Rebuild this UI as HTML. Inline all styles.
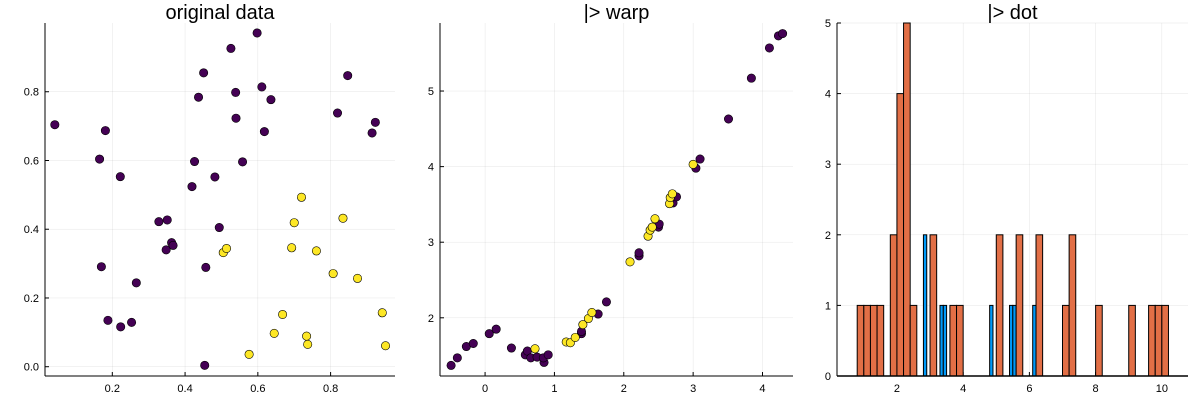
<!DOCTYPE html>
<html><head><meta charset="utf-8"><style>
body{margin:0;background:#fff;font-family:"Liberation Sans","DejaVu Sans",sans-serif}
svg text{font-family:"Liberation Sans","DejaVu Sans",sans-serif}
</style></head><body>
<svg id="c" width="1200" height="400" xmlns="http://www.w3.org/2000/svg"></svg>
<script>
const p1Purple=[[0.042,0.704],[0.181,0.687],[0.165,0.604],[0.222,0.553],[0.170,0.291],[0.188,0.135],[0.223,0.116],[0.253,0.129],[0.266,0.244],[0.328,0.422],[0.351,0.427],[0.348,0.340],[0.363,0.361],[0.367,0.353],[0.419,0.524],[0.426,0.597],[0.437,0.784],[0.451,0.855],[0.457,0.289],[0.454,0.004],[0.482,0.552],[0.494,0.405],[0.526,0.926],[0.539,0.798],[0.540,0.723],[0.558,0.596],[0.598,0.971],[0.611,0.814],[0.618,0.684],[0.636,0.777],[0.819,0.738],[0.847,0.847],[0.914,0.680],[0.923,0.711]];
const p1Yellow=[[0.576,0.036],[0.505,0.332],[0.514,0.344],[0.645,0.097],[0.668,0.152],[0.693,0.346],[0.700,0.419],[0.720,0.493],[0.734,0.089],[0.737,0.065],[0.761,0.337],[0.807,0.271],[0.834,0.432],[0.874,0.257],[0.942,0.157],[0.951,0.061]];
const p2Purple=[[-0.49,1.37],[-0.40,1.47],[-0.27,1.62],[-0.17,1.66],[0.06,1.79],[0.16,1.85],[0.38,1.60],[0.58,1.51],[0.61,1.56],[0.66,1.47],[0.75,1.48],[0.85,1.41],[0.84,1.47],[0.91,1.51],[1.39,1.79],[1.39,1.82],[1.63,2.05],[1.75,2.21],[2.22,2.82],[2.22,2.86],[2.50,3.20],[2.51,3.24],[2.71,3.52],[2.76,3.60],[3.04,3.98],[3.10,4.10],[3.51,4.63],[3.84,5.17],[4.10,5.57],[4.23,5.73],[4.29,5.76]];
const p2Yellow=[[0.72,1.59],[1.17,1.68],[1.23,1.67],[1.30,1.74],[1.41,1.91],[1.49,1.99],[1.54,2.07],[2.09,2.74],[2.35,3.08],[2.38,3.16],[2.41,3.20],[2.45,3.31],[2.66,3.51],[2.67,3.59],[2.70,3.64],[3.00,4.03]];
const orangeEdges=[0.8,1.0,1.2,1.4,1.8,2.0,2.2,2.4,3.0,3.6,3.8,5.0,5.6,6.2,7.0,7.2,8.0,9.0,9.6,9.8,10.0];
const orangeCounts=[1,1,1,1,2,4,5,1,2,1,1,2,2,2,1,2,1,1,1,1,1];
const blueEdges=[2.8,3.3,3.4,4.8,5.4,5.5,6.1];
const blueCounts=[2,1,1,1,1,1,1];
const ticks1x=[0.2,0.4,0.6,0.8],ticks1y=[0.0,0.2,0.4,0.6,0.8];
const ticks2x=[0,1,2,3,4],ticks2y=[2,3,4,5];
const ticks3x=[2,4,6,8,10],ticks3y=[0,1,2,3,4,5];

const svg=document.getElementById('c');const NS='http://www.w3.org/2000/svg';
function el(t,a,p){const e=document.createElementNS(NS,t);for(const k in a)e.setAttribute(k,a[k]);(p||svg).appendChild(e);return e;}
function panel(name,L,R,T,B,xmin,xmax,ymin,ymax,xt,yt,fmtx,fmty,title){
  const g=el('g',{});
  
  
  const sx=v=>L+(v-xmin)/(xmax-xmin)*(R-L), sy=v=>B-(v-ymin)/(ymax-ymin)*(B-T);
  xt.forEach(v=>{el('line',{x1:sx(v),x2:sx(v),y1:T,y2:B,stroke:'#000','stroke-opacity':0.1,'stroke-width':0.5},g);
    el('line',{x1:sx(v),x2:sx(v),y1:B,y2:B-4,stroke:'#000'},g);
    const t=el('text',{x:sx(v),y:B+16,'text-anchor':'middle','font-size':11,fill:'#000'},g);t.textContent=fmtx(v);
    
    });
  yt.forEach(v=>{el('line',{x1:L,x2:R,y1:sy(v),y2:sy(v),stroke:'#000','stroke-opacity':0.1,'stroke-width':0.5},g);
    el('line',{x1:L,x2:L+4,y1:sy(v),y2:sy(v),stroke:'#000'},g);
    const t=el('text',{x:L-6,y:sy(v)+4,'text-anchor':'end','font-size':11,fill:'#000'},g);t.textContent=fmty(v);
    
    });
  el('line',{x1:L,x2:L,y1:T,y2:B,stroke:'#000','stroke-width':1},g);
  el('line',{x1:L,x2:R,y1:B,y2:B,stroke:'#000','stroke-width':1},g);
  const tt=el('text',{x:(L+R)/2,y:19,'text-anchor':'middle','font-size':20,fill:'#000'},g);tt.textContent=title;
  
  
  return {g,sx,sy};
}
function scatter(P,data,col,name){data.forEach(d=>{const c=el('circle',{cx:P.sx(d[0]),cy:P.sy(d[1]),r:4.2,fill:col,stroke:'#000','stroke-width':0.6},P.g);
  
  });}
const f2=v=>v.toFixed(1),f0=v=>String(v);
const A=panel('original-data-panel',45,395,23,376,0.015,0.977,-0.027,1.0,ticks1x,ticks1y,f2,f2,'original data');
scatter(A,p1Purple,'#440154','point-class-0');scatter(A,p1Yellow,'#fde725','point-class-1');
const Bp=panel('warp-panel',440,793,23,376,-0.65,4.44,1.23,5.90,ticks2x,ticks2y,f0,f0,'|> warp');
scatter(Bp,p2Purple,'#440154','point-class-0');scatter(Bp,p2Yellow,'#fde725','point-class-1');
const C=panel('dot-panel',837,1188,23,376,0.19,10.79,0,5,ticks3x,ticks3y,f0,f0,'|> dot');
function bars(edges,counts,w,col,name){edges.forEach((e,i)=>{const x1=C.sx(e),x2=C.sx(e+w),y=C.sy(counts[i]);
  const r=el('rect',{x:x1,y:y,width:x2-x1,height:C.sy(0)-y,fill:col,stroke:'#000','stroke-width':1},C.g);
  
  });}
bars(blueEdges,blueCounts,0.1,'#009af9','bar-class-0');
bars(orangeEdges,orangeCounts,0.2,'#e26f46','bar-class-1');
el('line',{x1:837,x2:1188,y1:376,y2:376,stroke:'#000','stroke-width':1.5},C.g);
</script>
</body></html>
